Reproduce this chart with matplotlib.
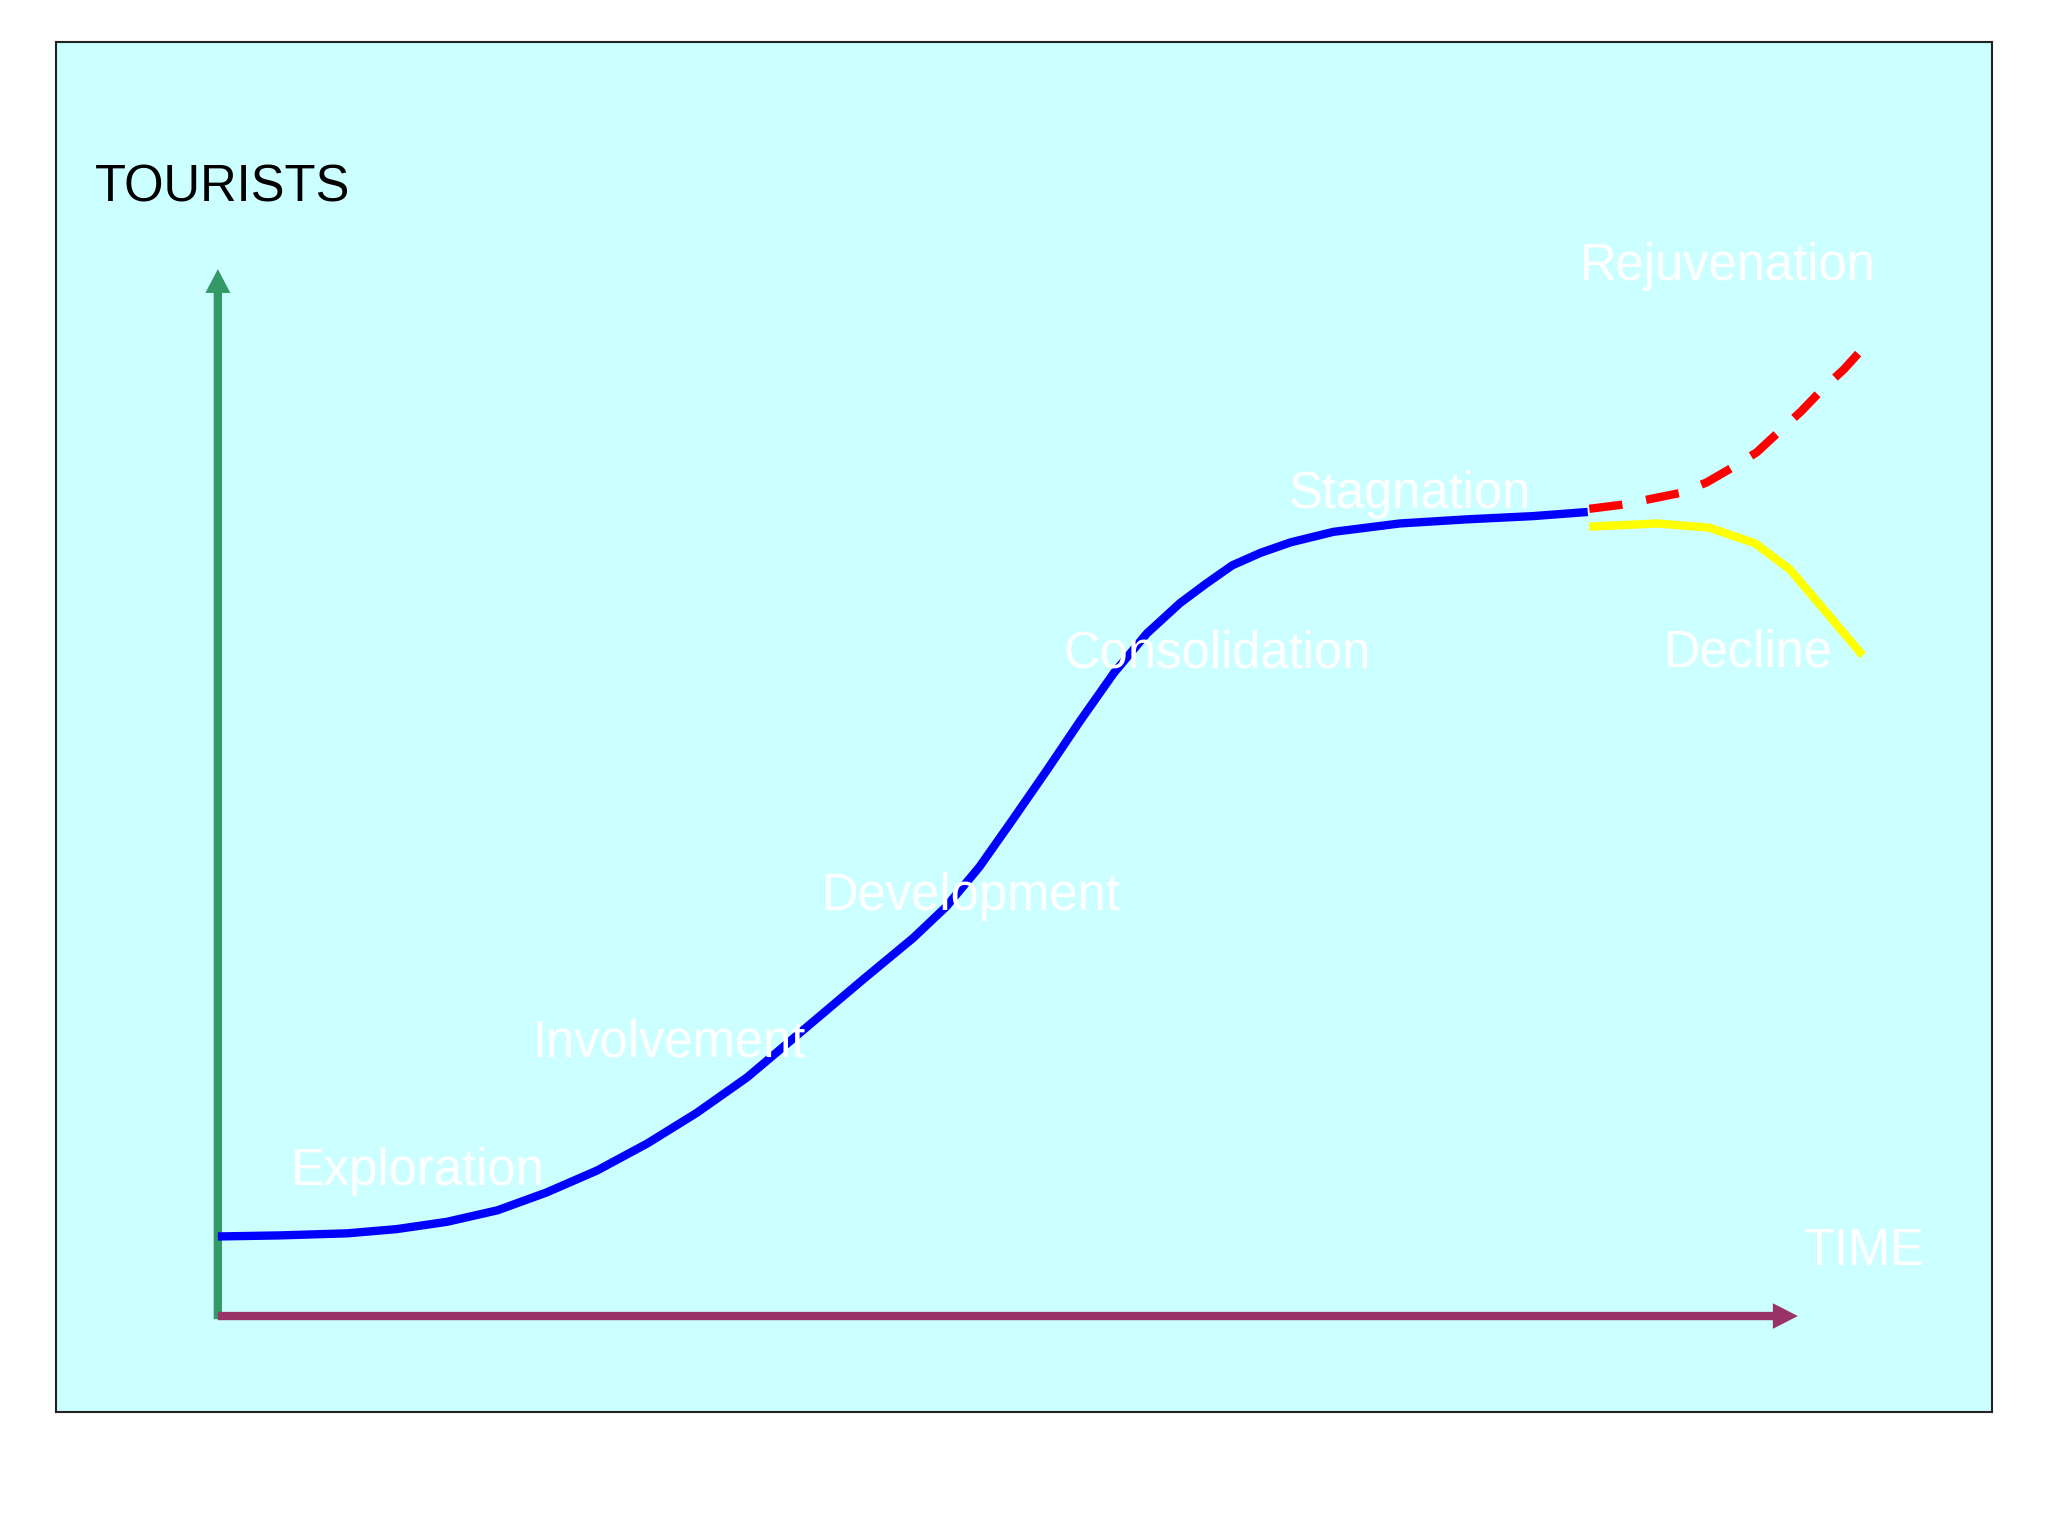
import matplotlib.pyplot as plt

plt.rcParams["font.family"] = ["Liberation Sans", "DejaVu Sans"]

# Butler tourism area life cycle.
# time: 0 at the origin, 100 at the tip of the TIME arrow
# tourists: 0 at the origin, 100 at the tip of the TOURISTS arrow
main_time = [0.0, 3.9, 8.2, 11.3, 14.5, 17.7, 20.8, 24.0, 27.2, 30.3, 33.5,
             35.7, 37.9, 40.8, 44.0, 46.1, 48.2, 50.3, 52.5, 54.6, 56.7, 58.8,
             60.9, 62.5, 64.2, 66.0, 67.9, 70.6, 74.8, 79.1, 83.2, 86.7]
main_tourists = [7.6, 7.7, 7.9, 8.3, 9.0, 10.1, 11.8, 13.9, 16.5, 19.4, 22.8,
                 25.6, 28.4, 32.1, 36.1, 39.1, 42.9, 47.4, 52.2, 56.9, 61.4, 65.2,
                 68.1, 69.9, 71.7, 72.9, 73.9, 74.9, 75.7, 76.1, 76.4, 76.8]

rejuv_time = [86.8, 88.9, 92.5, 94.2, 95.8, 97.4, 98.9, 100.2, 101.6, 102.9, 104.1]
rejuv_tourists = [77.1, 77.5, 78.6, 79.6, 81.0, 82.5, 84.6, 86.4, 88.6, 90.4, 92.4]

decline_time = [86.8, 91.1, 94.4, 97.3, 99.5, 101.7, 104.1]
decline_tourists = [75.4, 75.7, 75.3, 73.8, 71.3, 67.4, 63.1]

stages = ["Exploration", "Involvement", "Development", "Consolidation",
          "Stagnation", "Rejuvenation", "Decline"]
x_label = "TIME"
y_label = "TOURISTS"

# where each label's left baseline sits (data units)
stage_pos = {
    "Exploration": (4.6, 12.5),
    "Involvement": (19.9, 24.8),
    "Development": (38.2, 38.8),
    "Consolidation": (53.5, 61.9),
    "Stagnation": (67.8, 77.2),
    "Rejuvenation": (86.2, 99.0),
    "Decline": (91.5, 62.0),
}

fig = plt.figure(figsize=(20.48, 15.36), dpi=100)
ax = fig.add_axes([0.0273, 0.0807, 0.9453, 0.8919])
ax.set_facecolor("#CCFFFF")
ax.set_xlim(-10.25, 112.28)
ax.set_ylim(-9.17, 121.68)
ax.set_xticks([])
ax.set_yticks([])
for s in ax.spines.values():
    s.set_color("#222222")
    s.set_linewidth(1.5)

# axes arrows
ax.annotate("", xy=(0, 100), xytext=(0, -0.3),
            arrowprops=dict(arrowstyle="simple,head_length=0.86,head_width=0.9,tail_width=0.3",
                            mutation_scale=20, color="#339966", lw=0,
                            shrinkA=0, shrinkB=0))
ax.annotate("", xy=(100, 0), xytext=(0, 0),
            arrowprops=dict(arrowstyle="simple,head_length=0.9,head_width=0.92,tail_width=0.3",
                            mutation_scale=20, color="#993366", lw=0,
                            shrinkA=0, shrinkB=0))

ax.plot(main_time, main_tourists, color="#0000FF", lw=6,
        solid_capstyle="butt", solid_joinstyle="round", zorder=3)
ax.plot(rejuv_time, rejuv_tourists, color="#FF0000", lw=6,
        linestyle=(0, (4.0, 2.9)), dash_capstyle="butt", zorder=3)
ax.plot(decline_time, decline_tourists, color="#FFFF00", lw=6,
        solid_capstyle="butt", solid_joinstyle="round", zorder=3)

for name in stages:
    x, y = stage_pos[name]
    ax.text(x, y, name, color="white", fontsize=36.5, ha="left",
            va="baseline", zorder=4)

ax.text(-7.8, 106.5, y_label, color="black", fontsize=36.5, ha="left",
        va="baseline", zorder=4)
ax.text(100.4, 4.9, x_label, color="white", fontsize=36.5, ha="left",
        va="baseline", zorder=4)

fig.savefig("out.png", dpi=100, facecolor="white")
